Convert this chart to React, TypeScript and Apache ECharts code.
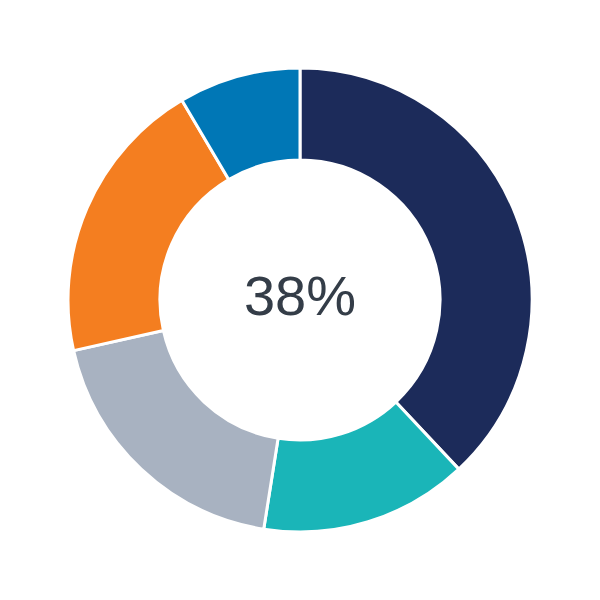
import { useEffect, useRef } from 'react';
import * as echarts from 'echarts';

const categories = ['A', 'B', 'C', 'D', 'E'];
const values = [38, 14.5, 19, 20, 8.5];
const colors = ['#1c2b5a', '#1ab5b8', '#a8b2c1', '#f47e20', '#0077b6'];
const centerLabel = '38%';

export default function App() {
  const chartRef = useRef<HTMLDivElement>(null);

  useEffect(() => {
    if (!chartRef.current) return;
    const chart = echarts.init(chartRef.current, undefined, { renderer: 'svg' });

    chart.setOption({
      animation: false,
      backgroundColor: '#ffffff',
      graphic: [
        {
          type: 'text',
          x: 300,
          y: 295,
          style: {
            text: centerLabel,
            fontFamily: '"Liberation Sans", Arial, sans-serif',
            fontSize: 56,
            fill: '#343d48',
            align: 'center',
            verticalAlign: 'middle',
          },
        },
      ],
      series: [
        {
          type: 'pie',
          center: ['50%', '50%'],
          radius: [140, 232],
          startAngle: 90,
          clockwise: true,
          label: { show: false },
          labelLine: { show: false },
          emphasis: { disabled: true },
          itemStyle: { borderColor: '#ffffff', borderWidth: 3 },
          data: categories.map((name, i) => ({
            name,
            value: values[i],
            itemStyle: { color: colors[i] },
          })),
        },
      ],
    });

    return () => {
      chart.dispose();
    };
  }, []);

  return (
    <div
      ref={chartRef}
      style={{ position: 'fixed', left: 0, top: 0, width: '600px', height: '600px' }}
    ></div>
  );
}
